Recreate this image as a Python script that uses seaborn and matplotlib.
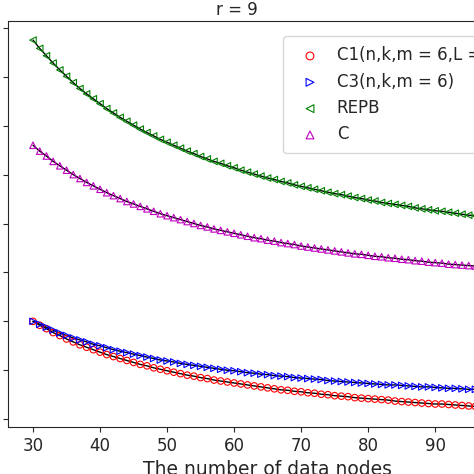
import seaborn as sns
import matplotlib.pyplot as plt
import pandas as pd

n = list(range(30, 101))

c1 = [2.00, 1.92, 1.85, 1.77, 1.71, 1.64, 1.58, 1.52, 1.47, 1.42, 1.37, 1.32, 1.28, 1.24, 1.20, 1.16, 1.12, 1.09,
      1.05, 1.02, 0.99, 0.96, 0.93, 0.90, 0.88, 0.85, 0.83, 0.80, 0.78, 0.76, 0.74, 0.72, 0.70, 0.68, 0.66, 0.64,
      0.62, 0.60, 0.59, 0.57, 0.56, 0.54, 0.53, 0.51, 0.50, 0.48, 0.47, 0.46, 0.44, 0.43, 0.42, 0.41, 0.40, 0.39,
      0.37, 0.36, 0.35, 0.34, 0.33, 0.32, 0.31, 0.31, 0.30, 0.29, 0.28, 0.27, 0.26, 0.25, 0.25, 0.24, 0.23]
c3 = [2.00, 1.94, 1.88, 1.82, 1.76, 1.71, 1.66, 1.62, 1.58, 1.53, 1.50, 1.46, 1.42, 1.39, 1.36, 1.33, 1.30, 1.27,
      1.24, 1.21, 1.19, 1.17, 1.14, 1.12, 1.10, 1.08, 1.06, 1.04, 1.02, 1.00, 0.99, 0.97, 0.95, 0.94, 0.92, 0.91,
      0.89, 0.88, 0.87, 0.85, 0.84, 0.83, 0.82, 0.81, 0.79, 0.78, 0.77, 0.76, 0.75, 0.74, 0.73, 0.72, 0.71, 0.70,
      0.70, 0.69, 0.68, 0.67, 0.66, 0.66, 0.65, 0.64, 0.63, 0.63, 0.62, 0.61, 0.61, 0.60, 0.59, 0.59, 0.58]
repb = [7.75, 7.58, 7.43, 7.28, 7.14, 7.01, 6.88, 6.76, 6.65, 6.55, 6.45, 6.35, 6.26, 6.17, 6.09, 6.01, 5.93, 5.86,
        5.79, 5.72, 5.66, 5.60, 5.54, 5.48, 5.43, 5.37, 5.32, 5.27, 5.23, 5.18, 5.14, 5.09, 5.05, 5.01, 4.97, 4.93,
        4.90, 4.86, 4.83, 4.79, 4.76, 4.73, 4.70, 4.67, 4.64, 4.61, 4.59, 4.56, 4.53, 4.51, 4.48, 4.46, 4.43, 4.41,
        4.39, 4.37, 4.35, 4.32, 4.30, 4.28, 4.26, 4.25, 4.23, 4.21, 4.19, 4.17, 4.16, 4.14, 4.12, 4.11, 4.09]
c = [5.60, 5.48, 5.38, 5.27, 5.18, 5.09, 5.00, 4.92, 4.84, 4.77, 4.70, 4.63, 4.57, 4.51, 4.45, 4.40, 4.35, 4.30,
     4.25, 4.20, 4.16, 4.12, 4.08, 4.04, 4.00, 3.96, 3.93, 3.89, 3.86, 3.83, 3.80, 3.77, 3.74, 3.71, 3.69, 3.66,
     3.64, 3.61, 3.59, 3.57, 3.54, 3.52, 3.50, 3.48, 3.46, 3.44, 3.42, 3.40, 3.38, 3.37, 3.35, 3.33, 3.32, 3.30,
     3.29, 3.27, 3.26, 3.24, 3.23, 3.21, 3.20, 3.19, 3.17, 3.16, 3.15, 3.14, 3.13, 3.11, 3.10, 3.09, 3.08]

series = [("C1(n,k,m = 6,L = 3)", c1, "red", "o"),
          ("C3(n,k,m = 6)", c3, "blue", ">"),
          ("REPB", repb, "green", "<"),
          ("C", c, "m", "^")]

sns.set_style("ticks")
fig = plt.figure(figsize=(4.74, 4.74), dpi=100)
# the original is cropped: axes run past the right edge of the picture
ax = fig.add_axes([8 / 474, 47 / 474, 1.095, 406 / 474])

for label, vals, col, mk in series:
    df = pd.DataFrame({"n": n, "v": vals})
    sns.lineplot(data=df, x="n", y="v", ax=ax, color="black", lw=1, zorder=2)
    sns.scatterplot(data=df, x="n", y="v", ax=ax, marker=mk, s=22, facecolors="none",
                    edgecolor=col, linewidth=0.8, label=label, zorder=3)

ax.set_xlim(26.27, 103.7)
ax.set_ylim(-0.16, 8.14)
ax.set_xticks([30, 40, 50, 60, 70, 80, 90, 100])
ax.set_yticks(range(9))
ax.set_yticklabels([])
ax.tick_params(axis="x", labelsize=12)
ax.set_xlabel("The number of data nodes", fontsize=13.5)
ax.set_ylabel("")
fig.text(0.5, 1 - 10 / 474, "r = 9", ha="center", va="center", fontsize=12)

ax.legend(loc="upper left", bbox_to_anchor=(275 / 474, 1 - 28 / 474), bbox_transform=fig.transFigure,
          fontsize=12, markerscale=1.2, handletextpad=0.6, borderpad=0.6, labelspacing=0.5)

fig.savefig("out.png", dpi=100)
